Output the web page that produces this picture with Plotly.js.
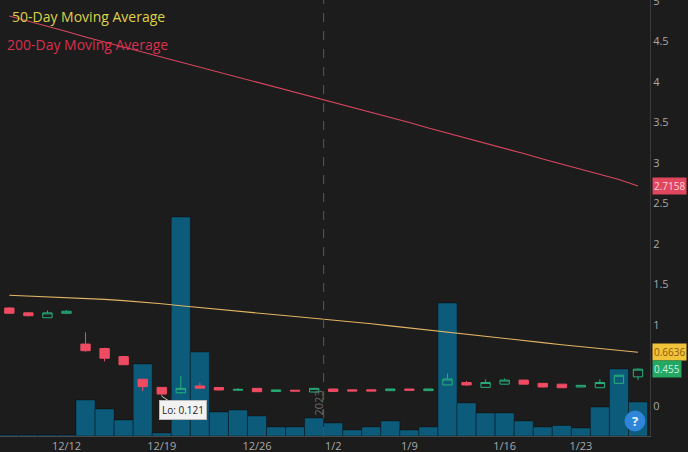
<!DOCTYPE html>
<html>
<head>
<meta charset="utf-8">
<script src="https://cdn.plot.ly/plotly-3.0.1.min.js"></script>
<style>html,body{margin:0;padding:0;background:#1c1c1c;}#chart{width:688px;height:452px;}</style>
</head>
<body>
<div id="chart"></div>
<script>
const dates = ['2022-12-07','2022-12-08','2022-12-09','2022-12-12','2022-12-13','2022-12-14','2022-12-15','2022-12-16','2022-12-19','2022-12-20','2022-12-21','2022-12-22','2022-12-23','2022-12-27','2022-12-28','2022-12-29','2022-12-30','2023-01-03','2023-01-04','2023-01-05','2023-01-06','2023-01-09','2023-01-10','2023-01-11','2023-01-12','2023-01-13','2023-01-17','2023-01-18','2023-01-19','2023-01-20','2023-01-23','2023-01-24','2023-01-25','2023-01-26'];
const openP  = [1.21,1.15,1.09,1.145,0.765,0.71,0.61,0.33,0.23,0.164,0.248,0.228,0.195,0.218,0.18,0.195,0.173,0.21,0.2,0.2,0.19,0.21,0.19,0.26,0.29,0.23,0.27,0.32,0.28,0.27,0.235,0.226,0.28,0.36];
const highP  = [1.22,1.155,1.18,1.185,0.91,0.72,0.62,0.335,0.235,0.37,0.288,0.232,0.22,0.22,0.2,0.197,0.225,0.212,0.201,0.201,0.212,0.211,0.212,0.40,0.31,0.33,0.34,0.325,0.285,0.272,0.258,0.33,0.385,0.465];
const lowP   = [1.14,1.105,1.09,1.14,0.67,0.55,0.506,0.185,0.121,0.15,0.215,0.195,0.19,0.175,0.178,0.183,0.17,0.178,0.183,0.183,0.188,0.193,0.188,0.255,0.25,0.225,0.265,0.265,0.23,0.222,0.232,0.22,0.275,0.32];
const closeP = [1.145,1.115,1.15,1.17,0.683,0.59,0.51,0.24,0.148,0.218,0.22,0.198,0.205,0.177,0.198,0.185,0.218,0.18,0.185,0.185,0.21,0.195,0.21,0.333,0.26,0.29,0.32,0.27,0.235,0.226,0.255,0.29,0.38,0.455];
const volumeM = [0.1,0.1,0.1,0.1,3.6,2.7,1.6,7.2,0.3,21.9,8.4,2.4,2.6,2.0,0.9,0.9,1.8,1.3,0.6,0.9,1.5,0.6,0.9,13.3,3.3,2.3,2.3,1.5,0.9,1.05,0.8,2.9,6.7,3.4];
const ma50  = [1.367,1.358,1.351,1.342,1.331,1.317,1.301,1.284,1.262,1.238,1.214,1.190,1.167,1.146,1.126,1.105,1.084,1.062,1.040,1.015,0.990,0.965,0.941,0.916,0.889,0.863,0.836,0.810,0.783,0.757,0.733,0.710,0.686,0.6636];
const ma200 = [4.815,4.753,4.685,4.623,4.556,4.494,4.432,4.370,4.309,4.247,4.185,4.123,4.062,4.000,3.938,3.870,3.809,3.747,3.685,3.623,3.562,3.500,3.432,3.370,3.309,3.241,3.179,3.117,3.049,2.988,2.926,2.858,2.796,2.7158];
const weekTicks = ['2022-12-12','2022-12-19','2022-12-27','2023-01-03','2023-01-09','2023-01-17','2023-01-23'];
const weekLabels = ['12/12','12/19','12/26','1/2','1/9','1/16','1/23'];
const priceTicks = [0,1,1.5,2,2.5,3,3.5,4,4.5,5];
const priceTickText = ['0','1','1.5','2','2.5','3','3.5','4','4.5','5'];
const lastMA200 = '2.7158', lastMA50 = '0.6636', lastClose = '0.455';
const lowLabel = 'Lo: 0.121';

const RED = '#ef4b63', GREEN = '#27b07a';
const traces = [
  {type:'bar', x:dates, y:volumeM, xaxis:'x', yaxis:'y',
   marker:{color:'#0d5b7b', line:{color:'rgba(0,0,0,0.35)', width:1}}, hoverinfo:'skip'},
  {type:'candlestick', x:dates, open:openP, high:highP, low:lowP, close:closeP, xaxis:'x', yaxis:'y2',
   increasing:{line:{color:GREEN, width:1}, fillcolor:'rgba(0,0,0,0)'},
   decreasing:{line:{color:RED, width:1}, fillcolor:RED}, whiskerwidth:0},
  {type:'scatter', mode:'lines', x:dates, y:ma50, xaxis:'x', yaxis:'y2', line:{color:'#e2b464', width:1.1}},
  {type:'scatter', mode:'lines', x:dates, y:ma200, xaxis:'x', yaxis:'y2', line:{color:'#d9475f', width:1.1}}
];
const layout = {
  width:688, height:452, margin:{l:0, r:38, t:0, b:16},
  paper_bgcolor:'#1c1c1c', plot_bgcolor:'#1c1c1c',
  showlegend:false, bargap:0, boxgap:0.3,
  font:{family:'Open Sans, sans-serif', color:'#a0a0a0', size:11},
  xaxis:{type:'category', range:[-0.49,33.63], tickvals:weekTicks, ticktext:weekLabels,
         showgrid:false, zeroline:false, showline:true, linecolor:'#4a4a4a', ticks:'', ticklen:0,
         rangeslider:{visible:false}, tickfont:{size:11, color:'#a8a8a8'}},
  yaxis:{range:[0,43.6], visible:false, showgrid:false, zeroline:false, fixedrange:true},
  yaxis2:{overlaying:'y', side:'right', range:[-0.370,5.012], tickvals:priceTicks, ticktext:priceTickText,
          ticklabeloverflow:'allow', showgrid:false, zeroline:false, showline:true, linecolor:'#3a3a3a', ticks:'', ticklen:0,
          tickfont:{size:11, color:'#a8a8a8'}},
  shapes:[
    {type:'line', xref:'x', yref:'paper', x0:16.5, x1:16.5, y0:0, y1:1, line:{color:'#5a5a5a', width:1, dash:'dash'}},
    {type:'circle', xref:'paper', yref:'paper', x0:0.9615, x1:0.9923, y0:0.0115, y1:0.0573, fillcolor:'#2f86d8', line:{color:'#2f86d8', width:1}}
  ],
  annotations:[
    {xref:'paper', yref:'paper', x:0.0154, y:0.963, xanchor:'left', yanchor:'middle', showarrow:false,
     text:'50-Day Moving Average', font:{size:14, color:'#dcd24a'}},
    {xref:'paper', yref:'paper', x:0.0077, y:0.897, xanchor:'left', yanchor:'middle', showarrow:false,
     text:'200-Day Moving Average', font:{size:14, color:'#d8304e'}},
    {xref:'paper', yref:'y2', x:1, y:parseFloat(lastMA200), xanchor:'left', yanchor:'middle', xshift:2, showarrow:false,
     text:lastMA200, bgcolor:'#e0475e', borderpad:1, font:{size:10, color:'#ffd3d9'}},
    {xref:'paper', yref:'y2', x:1, y:parseFloat(lastMA50), xanchor:'left', yanchor:'middle', xshift:2, showarrow:false,
     text:lastMA50, bgcolor:'#f0c43a', borderpad:1, font:{size:10, color:'#8c5a08'}},
    {xref:'paper', yref:'y2', x:1, y:parseFloat(lastClose), xanchor:'left', yanchor:'middle', xshift:2, showarrow:false,
     text:lastClose, bgcolor:'#22a862', borderpad:1, font:{size:10, color:'#d4f2e2'}},
    {xref:'x', yref:'y2', x:8, y:0.121, ax:21, ay:14, showarrow:true, arrowhead:0, arrowwidth:1, arrowcolor:'#cfcfcf',
     text:lowLabel, bgcolor:'#f2f2f2', bordercolor:'#bbbbbb', borderwidth:1, borderpad:2, font:{size:10, color:'#222'}},
    {xref:'x', yref:'y2', x:16.5, y:0.04, xshift:-5, textangle:-90, showarrow:false,
     text:'2023', font:{size:11, color:'#6a6a6a'}},
    {xref:'paper', yref:'paper', x:0.977, y:0.0344, xanchor:'center', yanchor:'middle', showarrow:false,
     text:'<b>?</b>', font:{size:13, color:'#e8f2ff'}}
  ]
};
Plotly.newPlot('chart', traces, layout, {displayModeBar:false, staticPlot:true});
</script>
</body>
</html>
